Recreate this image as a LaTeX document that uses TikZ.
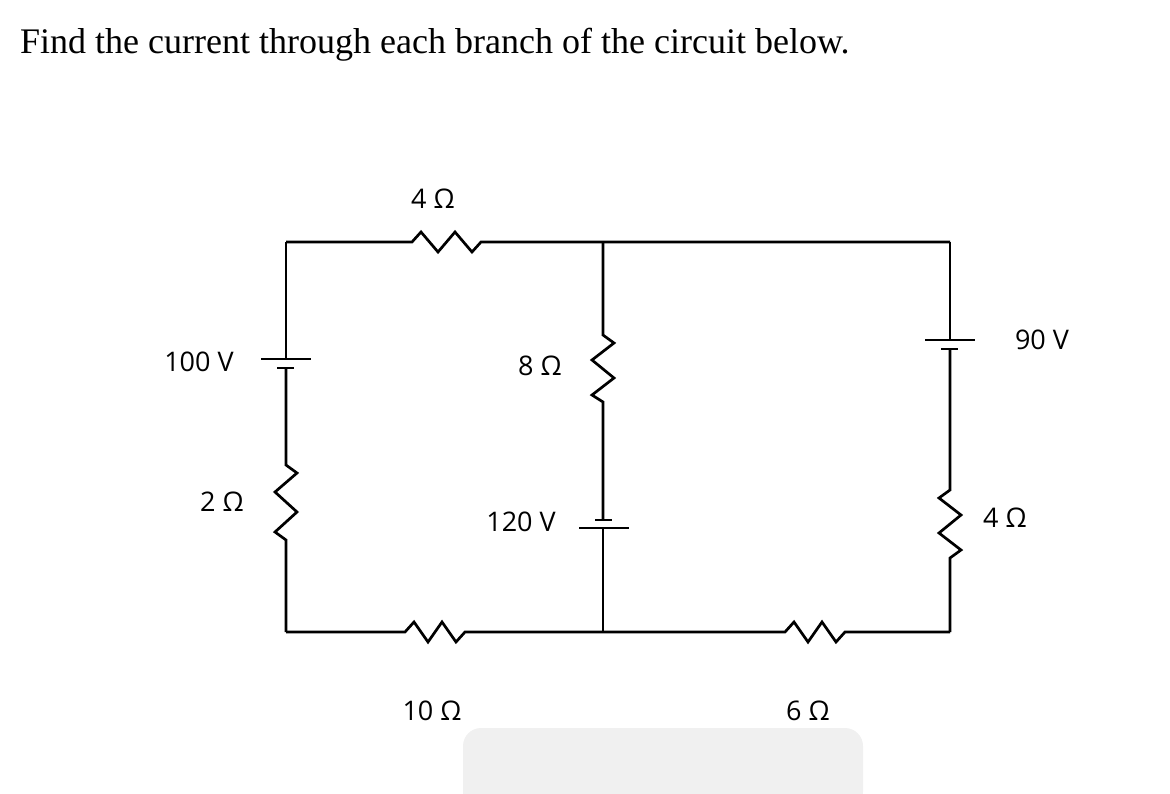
\documentclass[tikz,border=0pt]{standalone}
\usepackage{fontspec}
\setmainfont{Liberation Serif}
\newfontfamily\lab{Open Sans}
\begin{document}
\begin{tikzpicture}[x=1pt,y=-1pt,
  w/.style={line width=2.7pt},
  lbl/.style={font=\lab\fontsize{27}{30}\selectfont,inner sep=0pt}]
\useasboundingbox (0,0) rectangle (1170,794);
\fill[gray!12,rounded corners=18pt] (463,728) rectangle (863,810);
\node[anchor=west,inner sep=0pt,font=\fontsize{36}{40}\selectfont] (t) at (20,45) {Find the current through each branch of the circuit below.};
% corner coordinates
\coordinate (tl) at (286,242); \coordinate (tm) at (603,242); \coordinate (tr) at (950,242);
\coordinate (bl) at (286,632); \coordinate (bm) at (603,632); \coordinate (br) at (950,632);
% top wire with 4 ohm
\draw[w] (tl) -- (412,242) -- (421,232) -- (438,252) -- (455,232) -- (472,252) -- (481,242) -- (tm) -- (tr);
% bottom wire with 10 and 6 ohm
\draw[w] (bl) -- (405,632) -- (414,622) -- (428,642) -- (442,622) -- (456,642) -- (465,632) -- (bm)
  -- (785,632) -- (794,622) -- (808,642) -- (822,622) -- (836,642) -- (845,632) -- (br);
% left branch
\draw[w] (tl) -- (286,359); \draw[w] (261,359) -- (311,359);
\draw[w] (277,368) -- (294,368);
\draw[w] (286,368) -- (286,465) -- (297,473) -- (275,492) -- (297,512) -- (275,532) -- (286,540) -- (bl);
% middle branch
\draw[w] (tm) -- (603,335) -- (614,343) -- (592,360) -- (614,378) -- (592,395) -- (603,402) -- (603,520);
\draw[w] (595,520) -- (612,520); \draw[w] (579,528) -- (629,528);
\draw[w] (603,528) -- (bm);
% right branch
\draw[w] (tr) -- (950,340); \draw[w] (925,340) -- (975,340);
\draw[w] (941,349) -- (958,349);
\draw[w] (950,349) -- (950,490) -- (939,498) -- (961,515) -- (939,533) -- (961,550) -- (950,558) -- (br);
% labels
\node[lbl] (l1) at (433,199) {4 Ω};
\node[lbl] (l2) at (199,362) {100 V};
\node[lbl] (l3) at (222,502) {2 Ω};
\node[lbl] (l4) at (540,366) {8 Ω};
\node[lbl] (l5) at (521,522) {120 V};
\node[lbl] (l6) at (1042,340) {90 V};
\node[lbl] (l7) at (1005,518) {4 Ω};
\node[lbl] (l8) at (432,711) {10 Ω};
\node[lbl] (l9) at (808,711) {6 Ω};
\end{tikzpicture}
\end{document}
